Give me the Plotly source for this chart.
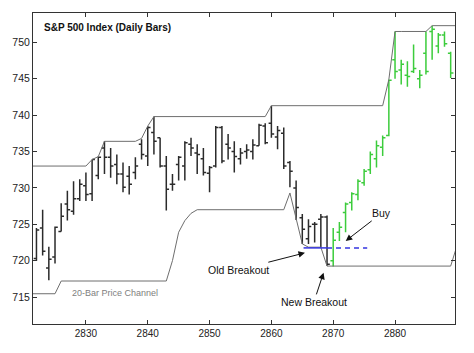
import plotly.graph_objects as go

# ---- Daily OHLC bars (S&P 500) ----
days = [2822, 2823, 2824, 2825, 2826, 2827, 2828, 2829, 2830, 2831,
        2832, 2833, 2834, 2835, 2836, 2837, 2838, 2839, 2840, 2841,
        2842, 2843, 2844, 2845, 2846, 2847, 2848, 2849, 2850, 2851,
        2852, 2853, 2854, 2855, 2856, 2857, 2858, 2859, 2860, 2861,
        2862, 2863, 2864, 2865, 2866, 2867, 2868, 2869, 2870, 2871,
        2872, 2873, 2874, 2875, 2876, 2877, 2878, 2879, 2880, 2881,
        2882, 2883, 2884, 2885, 2886, 2887, 2888, 2889]
opens = [720.3, 724.5, 719.0, 720.5, 724.0, 727.8, 726.8, 728.5, 730.3, 729.2,
         731.7, 735.5, 734.2, 733.2, 731.9, 731.6, 732.1, 736.0, 734.4, 737.6,
         736.9, 733.0, 730.5, 733.2, 733.0, 736.0, 734.8, 734.0, 732.0, 733.0,
         738.3, 736.0, 735.0, 734.0, 735.0, 735.0, 735.8, 738.5, 738.9, 737.0,
         737.5, 733.5, 730.0, 725.9, 723.0, 725.0, 725.7, 726.0, 720.0, 723.9,
         726.6, 728.0, 729.1, 730.7, 732.5, 734.0, 735.6, 737.2, 747.6, 746.2,
         745.5, 746.0, 745.0, 748.5, 751.5, 749.5, 751.0, 748.5]
highs = [724.5, 727.0, 721.9, 724.7, 727.9, 729.6, 730.9, 731.2, 732.1, 733.9,
         734.3, 736.4, 735.5, 734.6, 733.5, 733.0, 734.2, 736.7, 738.5, 739.8,
         736.9, 734.4, 731.9, 734.4, 736.4, 736.9, 736.0, 735.5, 733.0, 738.5,
         738.5, 737.4, 736.4, 735.5, 736.0, 736.7, 738.8, 738.9, 741.3, 738.5,
         738.3, 733.7, 731.0, 726.4, 725.7, 725.3, 726.4, 726.2, 724.5, 725.3,
         728.0, 729.4, 731.2, 732.6, 735.0, 736.5, 737.2, 744.9, 751.5, 747.6,
         747.4, 749.7, 746.2, 751.5, 752.3, 751.3, 751.5, 748.7]
lows = [720.0, 720.7, 717.3, 719.6, 724.0, 725.5, 726.3, 728.2, 728.2, 728.2,
        731.2, 731.9, 731.4, 730.5, 729.4, 729.1, 731.2, 733.9, 733.0, 734.6,
        732.8, 726.9, 729.6, 731.0, 731.0, 734.4, 731.9, 731.7, 729.4, 732.8,
        733.4, 733.9, 732.1, 733.2, 734.0, 733.9, 735.8, 736.0, 736.9, 735.3,
        732.6, 730.1, 725.6, 722.3, 722.3, 722.5, 721.8, 719.3, 719.2, 722.7,
        723.9, 726.9, 728.3, 730.3, 731.9, 732.8, 734.4, 737.1, 745.0, 744.2,
        743.9, 745.8, 743.7, 745.6, 747.6, 748.5, 749.4, 745.1]
closes = [724.2, 721.3, 720.2, 724.6, 726.1, 727.0, 728.5, 730.5, 729.1, 733.9,
          734.2, 734.2, 733.0, 731.9, 730.1, 730.5, 733.0, 734.6, 738.3, 736.4,
          733.0, 729.8, 730.5, 734.2, 736.2, 735.5, 734.6, 732.1, 732.8, 738.3,
          733.7, 735.5, 734.3, 734.8, 735.2, 735.9, 738.6, 736.2, 737.4, 737.9,
          733.0, 732.3, 727.3, 724.3, 724.7, 725.0, 726.0, 719.5, 722.8, 724.6,
          727.8, 729.2, 730.9, 732.3, 734.6, 735.8, 736.9, 744.8, 746.0, 747.0,
          745.3, 746.4, 745.5, 746.0, 751.8, 751.0, 749.8, 745.8]
buy_day = 2870  # bars from here on are drawn green

# ---- 20-bar price channel ----
channel_days = [2821, 2822, 2823, 2824, 2825, 2826, 2827, 2828, 2829, 2830,
                2831, 2832, 2833, 2834, 2835, 2836, 2837, 2838, 2839, 2840,
                2841, 2842, 2843, 2844, 2845, 2846, 2847, 2848, 2849, 2850,
                2851, 2852, 2853, 2854, 2855, 2856, 2857, 2858, 2859, 2860,
                2861, 2862, 2863, 2864, 2865, 2866, 2867, 2868, 2869, 2870,
                2871, 2872, 2873, 2874, 2875, 2876, 2877, 2878, 2879, 2880,
                2881, 2882, 2883, 2884, 2885, 2886, 2887, 2888, 2889, 2890]
channel_upper = [733.0, 733.0, 733.0, 733.0, 733.0, 733.0, 733.0, 733.0, 733.0, 733.0,
                 733.9, 734.3, 736.4, 736.4, 736.4, 736.4, 736.4, 736.4, 736.8, 738.5,
                 739.8, 739.8, 739.8, 739.8, 739.8, 739.8, 739.8, 739.8, 739.8, 739.8,
                 739.8, 739.8, 739.8, 739.8, 739.8, 739.8, 739.8, 739.8, 739.8, 741.3,
                 741.3, 741.3, 741.3, 741.3, 741.3, 741.3, 741.3, 741.3, 741.3, 741.3,
                 741.3, 741.3, 741.3, 741.3, 741.3, 741.3, 741.3, 741.3, 744.9, 751.5,
                 751.5, 751.5, 751.5, 751.5, 751.5, 752.3, 752.3, 752.3, 752.3, 752.3]
channel_lower = [715.45, 715.45, 715.45, 715.45, 715.45, 717.2, 717.2, 717.2, 717.2, 717.2,
                 717.2, 717.2, 717.2, 717.2, 717.2, 717.2, 717.2, 717.2, 717.2, 717.2,
                 717.2, 717.2, 717.2, 720.0, 723.9, 725.5, 726.5, 727.0, 727.0, 727.0,
                 727.0, 727.0, 727.0, 727.0, 727.0, 727.0, 727.0, 727.0, 727.0, 727.0,
                 727.0, 727.0, 729.3, 725.6, 722.3, 721.85, 721.85, 721.85, 719.25, 719.25,
                 719.25, 719.25, 719.25, 719.25, 719.25, 719.25, 719.25, 719.25, 719.25, 719.25,
                 719.25, 719.25, 719.25, 719.25, 719.25, 719.25, 719.25, 719.25, 719.25, 722.0]

# ---- breakout level (blue) ----
breakout_level = 721.75
breakout_solid_x = [2865.2, 2869.0]
breakout_dash_x = [2869.0, 2875.5]

# ---- axes ----
x_ticks = [2830, 2840, 2850, 2860, 2870, 2880]
y_ticks = [715, 720, 725, 730, 735, 740, 745, 750]
x_range = [2821.44, 2889.7]
y_range = [711.29, 754.04]

FONT = "Arial, Liberation Sans, sans-serif"
BAR_BLACK = "#2b2b2b"
BAR_GREEN = "#3ccc3c"
CHANNEL = "#6e6e6e"

fig = go.Figure()

fig.add_trace(go.Scatter(x=channel_days, y=channel_upper, mode="lines",
                         line=dict(color=CHANNEL, width=1), hoverinfo="skip",
                         showlegend=False))
fig.add_trace(go.Scatter(x=channel_days, y=channel_lower, mode="lines",
                         line=dict(color=CHANNEL, width=1), hoverinfo="skip",
                         showlegend=False))

def subset(cond):
    idx = [i for i, d in enumerate(days) if cond(d)]
    return ([days[i] for i in idx], [opens[i] for i in idx], [highs[i] for i in idx],
            [lows[i] for i in idx], [closes[i] for i in idx])

for cond, col in [(lambda d: d < buy_day, BAR_BLACK), (lambda d: d >= buy_day, BAR_GREEN)]:
    x, o, h, l, c = subset(cond)
    fig.add_trace(go.Ohlc(x=x, open=o, high=h, low=l, close=c, tickwidth=0.45,
                          increasing=dict(line=dict(color=col, width=1.5)),
                          decreasing=dict(line=dict(color=col, width=1.5)),
                          hoverinfo="skip", showlegend=False))

fig.add_trace(go.Scatter(x=breakout_solid_x, y=[breakout_level] * 2, mode="lines",
                         line=dict(color="#3434e0", width=1.5), hoverinfo="skip",
                         showlegend=False))
fig.add_trace(go.Scatter(x=breakout_dash_x, y=[breakout_level] * 2, mode="lines",
                         line=dict(color="#3434e0", width=1.5, dash="5px,4px"),
                         hoverinfo="skip", showlegend=False))

axis_common = dict(showline=True, linecolor="#333333", linewidth=1, mirror="ticks",
                   ticks="inside", ticklen=4, tickcolor="#333333", showgrid=False,
                   zeroline=False, fixedrange=True)

fig.update_layout(
    width=474, height=353,
    margin=dict(l=30, r=19, t=13, b=29),
    paper_bgcolor="white", plot_bgcolor="white",
    font=dict(family=FONT, color="#222222", size=10),
    xaxis=dict(range=x_range, tickvals=x_ticks, rangeslider=dict(visible=False),
               tickfont=dict(size=10, color="#222222"), **axis_common),
    yaxis=dict(range=y_range, tickvals=y_ticks,
               tickfont=dict(size=10.5, color="#222222"), **axis_common),
    showlegend=False,
)

fig.add_annotation(text="<b>S&P 500 Index (Daily Bars)</b>", xref="paper", yref="paper",
                   x=0.021, y=0.953, xanchor="left", yanchor="middle", showarrow=False,
                   font=dict(size=10, color="#111111", family=FONT))
fig.add_annotation(text="20-Bar Price Channel", x=2827.4, y=715.6, xanchor="left",
                   yanchor="middle", showarrow=False,
                   font=dict(size=9, color="#808080", family=FONT))

arrow = dict(showarrow=True, arrowhead=2, arrowsize=1.3, arrowwidth=1,
             arrowcolor="#111111", axref="x", ayref="y")
fig.add_annotation(text="Old Breakout", x=2865.43, y=721.07, ax=2854.76, ay=718.75,
                   font=dict(size=10.5, color="#111111", family=FONT), **arrow)
fig.add_annotation(text="New Breakout", x=2868.44, y=718.34, ax=2866.88, ay=714.33,
                   font=dict(size=10.5, color="#111111", family=FONT), **arrow)
fig.add_annotation(text="Buy", x=2872.02, y=722.71, ax=2877.8, ay=726.5,
                   font=dict(size=10.5, color="#111111", family=FONT), **arrow)

fig.write_html("out.html")
